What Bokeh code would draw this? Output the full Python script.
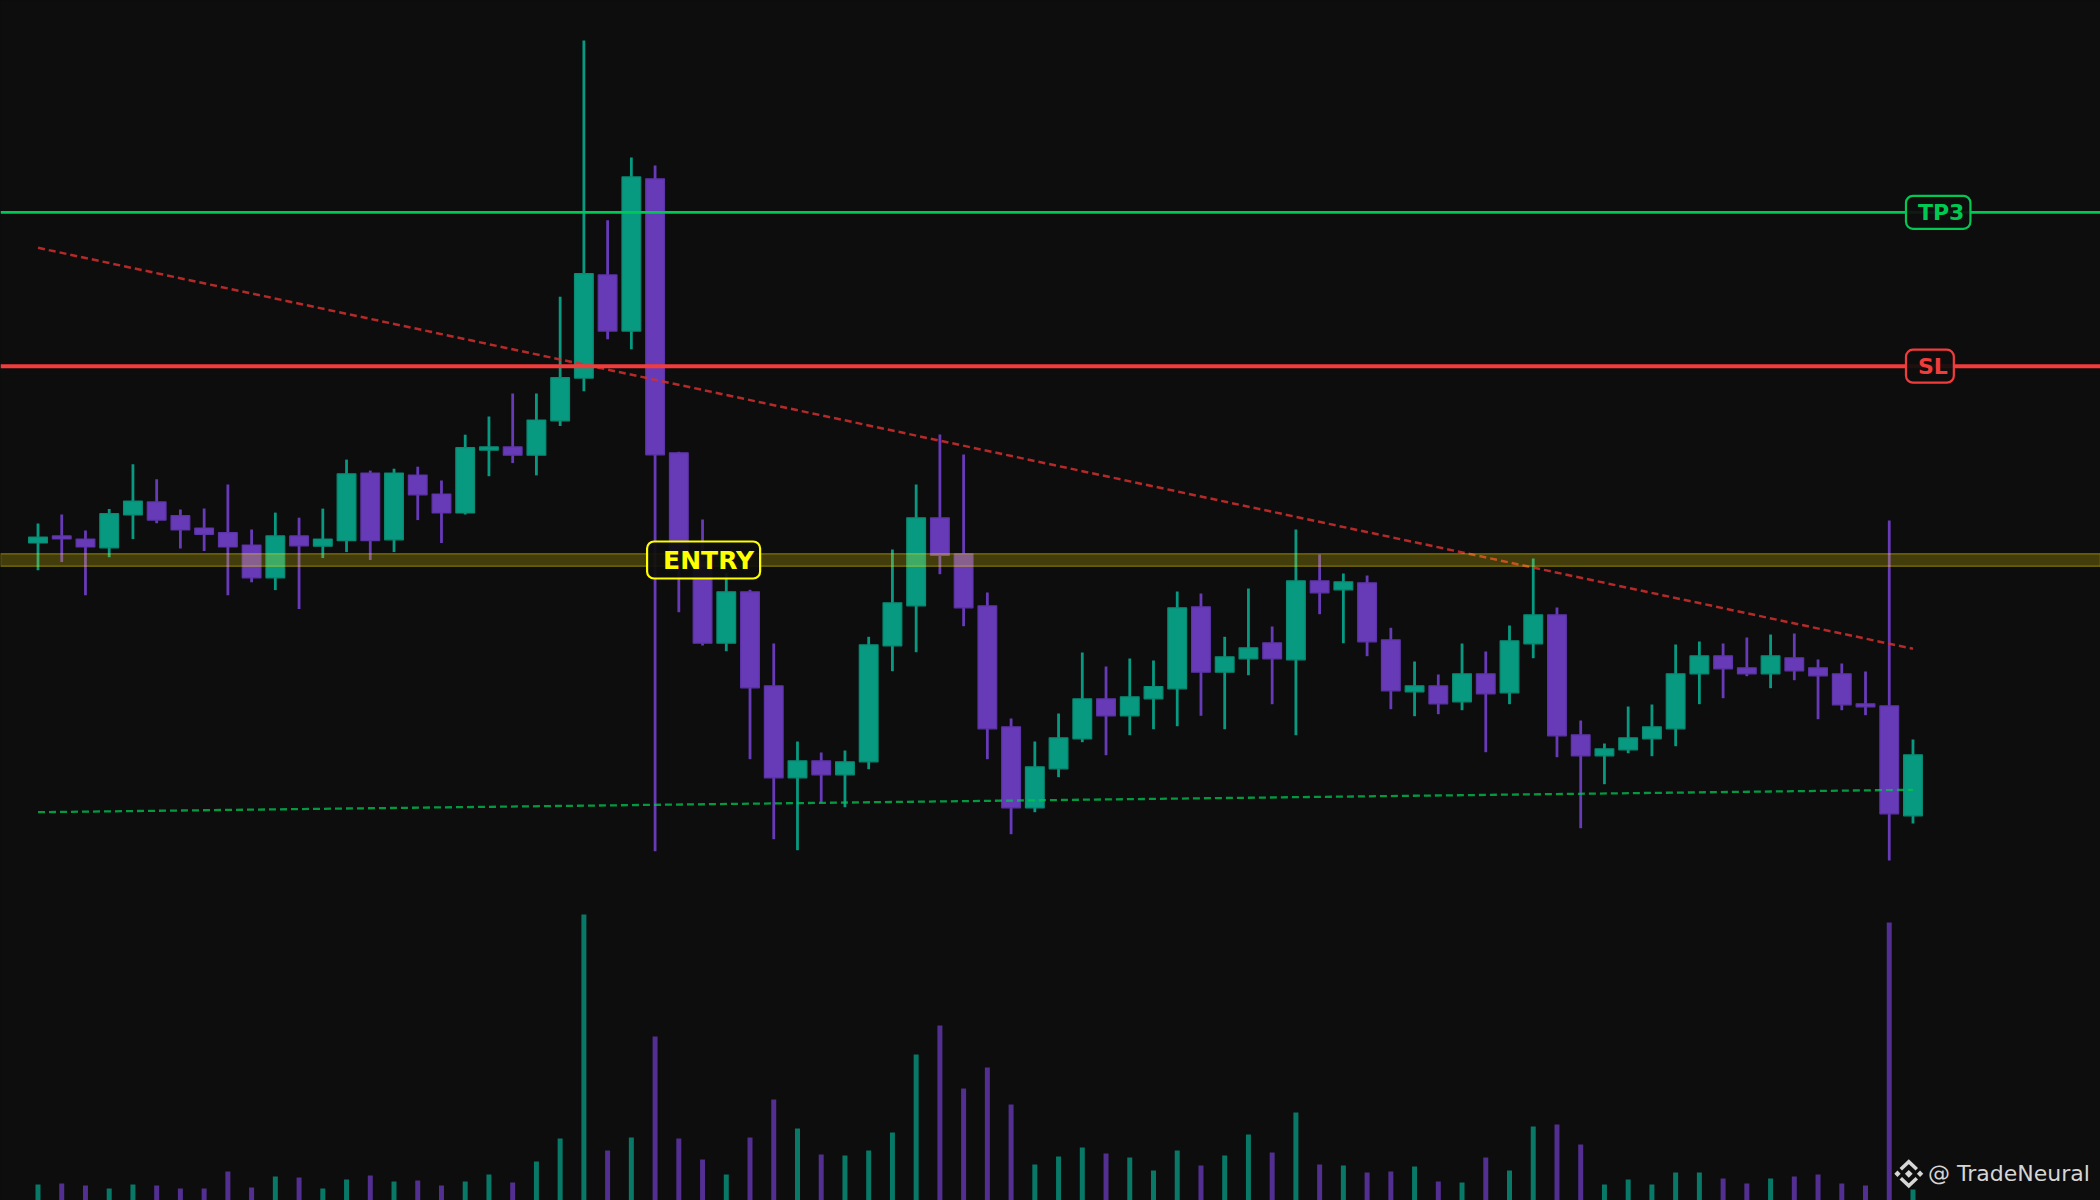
import numpy as np
from bokeh.plotting import figure
from bokeh.models import ColumnDataSource, Range1d, BoxAnnotation, Span, Label
from bokeh.embed import file_html
from bokeh.resources import INLINE

# ---------------- data ----------------
opens = [65.75,66.46,66.15,65.27,68.56,69.86,68.48,67.25,66.78,65.55,
         62.27,66.46,65.43,65.99,72.75,66.07,72.55,70.65,68.75,75.04,
         75.36,74.53,77.97,82.24,92.56,86.94,102.17,74.77,63.93,55.73,
         60.87,51.47,42.27,43.97,42.57,43.87,55.47,59.47,68.27,64.67,
         59.47,47.37,39.27,43.17,46.17,50.17,48.47,50.17,51.17,59.37,
         52.83,54.17,55.77,54.07,61.97,61.07,61.77,56.07,50.87,51.47,
         49.87,52.67,50.77,55.67,58.57,46.57,44.47,45.07,46.17,47.17,
         52.67,54.47,53.27,52.67,54.27,53.27,52.67,49.67,49.47,38.47]
highs = [67.69,68.60,67.01,69.15,73.62,72.12,69.11,69.19,71.60,67.09,
         68.79,68.28,69.19,74.09,72.99,73.18,73.38,72.00,76.58,78.40,
         80.70,80.70,90.38,116.01,98.02,104.30,103.51,74.87,68.10,62.77,
         61.07,55.70,45.90,44.80,45.00,56.37,65.10,71.60,76.60,74.60,
         60.80,48.20,45.90,48.70,54.80,53.40,54.20,54.00,60.90,60.70,
         56.37,61.20,57.40,67.10,64.60,62.70,62.50,57.27,53.90,52.60,
         55.70,54.90,57.50,64.20,59.30,48.00,45.70,49.40,49.60,55.60,
         55.90,55.70,56.30,56.60,56.70,54.10,53.70,52.90,68.00,46.10]
lows = [63.02,63.85,60.53,64.33,66.15,67.73,65.20,64.96,60.53,61.83,
        61.04,59.15,64.25,64.84,64.05,64.84,68.04,65.75,68.60,72.43,
        73.74,72.51,77.45,80.93,86.12,85.12,34.93,58.83,55.50,54.93,
        44.13,36.13,35.03,39.80,39.33,43.13,52.93,54.83,62.63,57.43,
        44.13,36.63,38.83,42.33,45.83,44.53,46.53,47.13,47.43,48.47,
        47.13,52.53,49.63,46.53,58.63,55.73,54.43,49.13,48.43,48.63,
        49.03,44.83,49.63,54.23,44.33,37.23,41.63,44.73,44.43,45.43,
        49.63,50.23,52.43,51.23,52.03,48.13,49.03,48.53,34.00,37.70]
closes = [66.34,66.15,65.35,68.68,69.94,68.04,67.06,66.62,65.35,62.27,
          66.46,65.47,66.15,72.67,65.99,72.75,70.57,68.75,75.28,75.36,
          74.53,78.05,82.28,92.68,86.94,102.36,74.57,64.00,55.73,60.87,
          51.27,42.27,43.97,42.57,43.87,55.57,59.77,68.27,64.50,59.27,
          47.17,39.27,43.37,46.27,50.17,48.47,50.37,51.40,59.27,52.83,
          54.37,55.27,54.17,61.97,60.77,61.87,55.87,50.97,51.47,49.67,
          52.67,50.67,55.97,58.57,46.47,44.47,45.17,46.27,47.37,52.67,
          54.47,53.17,52.67,54.47,52.97,52.47,49.57,49.37,38.67,44.57]
volumes = [16,17,15,12,16,15,12,12,29,13,
           24,23,12,21,25,19,20,15,19,26,
           18,39,62,286,50,63,164,62,41,26,
           63,101,72,46,45,50,68,146,175,112,
           133,96,36,44,53,47,43,30,50,35,
           45,66,48,88,36,35,28,29,34,19,
           18,43,30,74,76,56,16,21,16,28,
           28,22,17,22,24,26,17,15,278,11]

tp3_price = 98.82
sl_price = 83.43
entry_low = 63.43
entry_high = 64.67
resistance_line = [95.27, 55.17]   # first bar -> last bar
support_line = [38.83, 41.07]      # first bar -> last bar

# ---------------- styling ----------------
BG = "#0d0d0d"
UP = "#089981"
DOWN = "#673ab7"
UP_EDGE = "#0a8a72"
DOWN_EDGE = "#5d33a8"

n = len(opens)
idx = np.arange(n)
o = np.array(opens); c = np.array(closes)
up = c >= o
colors = np.where(up, UP, DOWN)
edges = np.where(up, UP_EDGE, DOWN_EDGE)

src = ColumnDataSource(dict(
    x=idx, open=o, close=c, high=np.array(highs), low=np.array(lows),
    top=np.maximum(o, c), bottom=np.minimum(o, c),
    color=colors, edge=edges, vol=np.array(volumes, dtype=float),
))

W, H = 2100, 1200
p = figure(width=W, height=H, output_backend="svg", toolbar_location=None,
           x_range=Range1d(-1.580, 86.901), y_range=Range1d(0.0, 120.0),
           min_border=0, background_fill_color=BG, border_fill_color=BG,
           outline_line_color=None)
p.axis.visible = False
p.grid.visible = False
p.extra_y_ranges = {"vol": Range1d(0, 1200)}

# volume bars
p.vbar(x="x", top="vol", bottom=0, width=0.21, source=src, y_range_name="vol",
       fill_color="color", line_color=None, fill_alpha=0.78)

# candles
p.segment(x0="x", y0="high", x1="x", y1="low", source=src, line_color="color", line_width=2.8)
p.vbar(x="x", top="top", bottom="bottom", width=0.79, source=src,
       fill_color="color", line_color="edge", line_width=1.2)

# trend lines
p.line(x=[0, n - 1], y=resistance_line, line_color="#d32f2f", line_alpha=0.85,
       line_width=2.5, line_dash="7 4")
p.line(x=[0, n - 1], y=support_line, line_color="#00c853", line_alpha=0.75,
       line_width=2.3, line_dash="7 4")

# levels
p.add_layout(Span(location=tp3_price, dimension="width", line_color="#00c853", line_width=2.8))
p.add_layout(Span(location=sl_price, dimension="width", line_color="#f23c3c", line_width=4))
p.add_layout(BoxAnnotation(bottom=entry_low, top=entry_high, fill_color="#ffea00",
                           fill_alpha=0.22, line_color="#ffea00", line_alpha=0.32, line_width=1.5))

FONT = "DejaVu Sans"
def tag(x, y, text, color, size, x_off, pad_l):
    p.add_layout(Label(x=x, y=y, x_offset=x_off, text=text, text_color=color,
                       text_font=FONT, text_font_size=size, text_font_style="bold",
                       text_align="left", text_baseline="middle",
                       background_fill_color=BG, background_fill_alpha=0.92,
                       border_line_color=color, border_line_width=2.2,
                       border_radius=7,
                       padding=dict(left=pad_l, right=6, top=4, bottom=4)))

tag(n - 1, tp3_price, "TP3", "#00c853", "22px", -7, 12)
tag(n - 1, sl_price, "SL", "#f23c3c", "22px", -7, 12)
tag(26, (entry_low + entry_high) / 2, "ENTRY", "#ffff00", "25px", -8, 16)

# watermark (logo + handle), bottom right
px_x = 1.0 / 23.734   # data units per pixel (x)
px_y = 0.1            # data units per pixel (price)
cx = (n - 1) + (1908.3 - 1912.5) * px_x
cy = (1200 - 1173.3) * px_y
p.scatter(x=[cx - 11.3 * px_x, cx, cx + 11.3 * px_x], y=[cy, cy, cy],
          marker="square", angle=np.pi / 4, size=[4.5, 5.5, 4.5],
          fill_color="#d6d6d6", line_color=None)
p.multi_line(xs=[[cx - 8 * px_x, cx, cx + 8 * px_x], [cx - 8 * px_x, cx, cx + 8 * px_x]],
             ys=[[cy + 4.5 * px_y, cy + 12 * px_y, cy + 4.5 * px_y],
                 [cy - 4.5 * px_y, cy - 12 * px_y, cy - 4.5 * px_y]],
             line_color="#d6d6d6", line_width=3.6, line_join="miter")
p.add_layout(Label(x=n - 1, y=cy, x_offset=15, text="@ TradeNeural", text_color="#d6d6d6",
                   text_font=FONT, text_font_size="22px", text_align="left",
                   text_baseline="middle"))

html = file_html(p, INLINE, title="TradeNeural chart")
html = html.replace("</head>", "<style>html, body { background-color: #0d0d0d; }</style></head>", 1)
open("out.html", "w").write(html)
